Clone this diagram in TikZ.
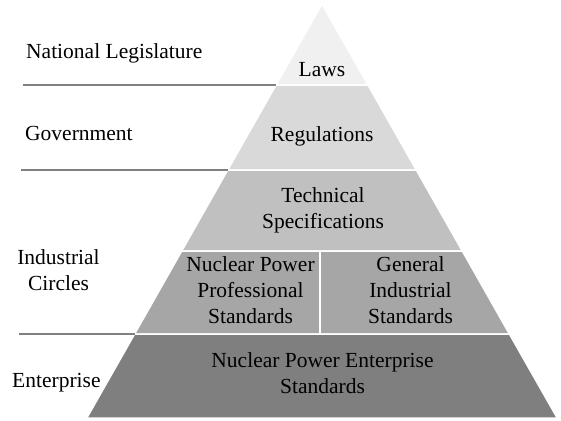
\documentclass[tikz,border=0pt]{standalone}
\usepackage{fontspec}
\setmainfont{Liberation Serif}
\usepackage{tikz}
\definecolor{lawsgray}{HTML}{F0F0F0}
\definecolor{reggray}{HTML}{D9D9D9}
\definecolor{techgray}{HTML}{C0C0C0}
\definecolor{stdgray}{HTML}{A6A6A6}
\definecolor{entgray}{HTML}{7F7F7F}
\definecolor{sepgray}{HTML}{808080}

\begin{document}
\begin{tikzpicture}[x=1pt,y=-1pt,
    band/.style={draw=white,line width=1.5pt,line join=round},
    sepline/.style={draw=sepgray,line width=2pt},
    lbl/.style={inner sep=0pt,align=center,font=\fontsize{21.5}{26}\selectfont}]
              \useasboundingbox(0,0)rectangle(561,420);
              \coordinate(top)at(322,4);
              \coordinate(l1)at(276,85);\coordinate(r1)at(368,85);
              \coordinate(l2)at(227.7,170);\coordinate(r2)at(416.3,170);
              \coordinate(l3)at(181.7,251);\coordinate(r3)at(462.3,251);
              \coordinate(l4)at(134.6,334);\coordinate(r4)at(509.4,334);
              \coordinate(l5)at(86.8,418);\coordinate(r5)at(557.2,418);
              \coordinate(m3)at(320,251);\coordinate(m4)at(320,334);
              \path[band,fill=lawsgray](top)--(r1)--(l1)--cycle;
              \path[band,fill=reggray](l1)--(r1)--(r2)--(l2)--cycle;
              \path[band,fill=techgray](l2)--(r2)--(r3)--(l3)--cycle;
              \path[band,fill=stdgray](l3)--(r3)--(r4)--(l4)--cycle;
              \path[band,fill=entgray](l4)--(r4)--(r5)--(l5)--cycle;
              \draw[band](m3)--(m4);
              \coordinate(s1)at(23,85);\coordinate(s2)at(21,170);\coordinate(s3)at(19,334);
              \draw[sepline](s1)--(l1);
              \draw[sepline](s2)--(l2);
              \draw[sepline](s3)--(l4);
              \node[lbl,anchor=base west](natleg)at(26,59){National Legislature};
              \node[lbl,anchor=base west](gov)at(25,140){Government};
              \node[lbl,anchor=base](indcirc)at(58.5,290){Industrial\\Circles};
              \node[lbl,anchor=base west](ent)at(12,387){Enterprise};
              \node[lbl,anchor=base](laws)at(322,76){Laws};
              \node[lbl,anchor=base](regs)at(322,141){Regulations};
              \node[lbl,anchor=base](techspec)at(323,228){Technical\\Specifications};
              \node[lbl,anchor=base](npprof)at(250.5,323){Nuclear Power\\Professional\\Standards};
              \node[lbl,anchor=base](genind)at(410.5,323){General\\Industrial\\Standards};
              \node[lbl,anchor=base](npent)at(322.5,393){Nuclear Power Enterprise\\Standards};
            \end{tikzpicture}
\end{document}
